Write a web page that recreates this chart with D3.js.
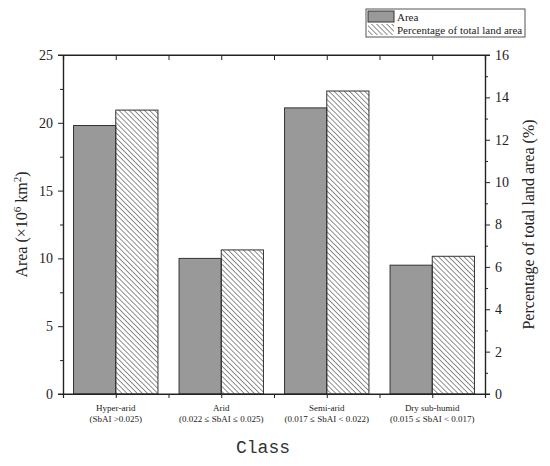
<!DOCTYPE html>
<html>
<head>
<meta charset="utf-8">
<script src="https://cdn.jsdelivr.net/npm/d3@7"></script>
<style>
  body { margin: 0; background: #fff; }
  svg text { font-family: "Liberation Serif", "Times New Roman", serif; fill: #222; }
</style>
</head>
<body>
<div id="chart"></div>
<script>
// chart data
var classNames = ["Hyper-arid", "Arid", "Semi-arid", "Dry sub-humid"];
var classRanges = ["(SbAI >0.025)", "(0.022 \u2264 SbAI \u2264 0.025)", "(0.017 \u2264 SbAI < 0.022)", "(0.015 \u2264 SbAI < 0.017)"];
var areaValues = [19.8, 10.0, 21.1, 9.5];
var percentValues = [13.4, 6.8, 14.3, 6.5];
var leftTicks = [0, 5, 10, 15, 20, 25];
var rightTicks = [0, 2, 4, 6, 8, 10, 12, 14, 16];

var svgWidth = 550;
var svgHeight = 466;

var margin = { top: 55, right: 65, bottom: 72, left: 63 };
var width = svgWidth - margin.left - margin.right;
var height = svgHeight - margin.top - margin.bottom;

var svg = d3.select("#chart").append("svg")
  .attr("width", svgWidth)
  .attr("height", svgHeight);

// hatch pattern for the percentage bars ("\\\\" direction)
var defs = svg.append("defs");
defs.append("pattern")
  .attr("id", "hatch")
  .attr("patternUnits", "userSpaceOnUse")
  .attr("width", 3.6)
  .attr("height", 3.6)
  .attr("patternTransform", "rotate(-45)")
  .append("line")
  .attr("x1", 0).attr("y1", 0)
  .attr("x2", 0).attr("y2", 3.6)
  .attr("stroke", "#333")
  .attr("stroke-width", 1.1);

var chartGroup = svg.append("g")
  .attr("transform", `translate(${margin.left}, ${margin.top})`);

// scales
var xScale = d3.scaleBand()
  .domain(classNames)
  .range([0, width])
  .paddingInner(0.2)
  .paddingOuter(0.1);

var yLeft = d3.scaleLinear().domain([0, 25]).range([height, 0]);
var yRight = d3.scaleLinear().domain([0, 16]).range([height, 0]);

var half = xScale.bandwidth() / 2;

// area bars
chartGroup.selectAll(".areaBar")
  .data(areaValues)
  .enter()
  .append("rect")
  .attr("class", "areaBar")
  .attr("x", (d, i) => xScale(classNames[i]))
  .attr("y", d => yLeft(d))
  .attr("width", half)
  .attr("height", d => height - yLeft(d))
  .attr("fill", "#999999")
  .attr("stroke", "#333")
  .attr("stroke-width", 1);

// percentage bars
chartGroup.selectAll(".pctBar")
  .data(percentValues)
  .enter()
  .append("rect")
  .attr("class", "pctBar")
  .attr("x", (d, i) => xScale(classNames[i]) + half)
  .attr("y", d => yRight(d))
  .attr("width", half)
  .attr("height", d => height - yRight(d))
  .attr("fill", "url(#hatch)")
  .attr("stroke", "#333")
  .attr("stroke-width", 1);

// left axis
var leftAxis = d3.axisLeft(yLeft).tickValues(leftTicks).tickSize(5).tickPadding(5);
var gLeft = chartGroup.append("g").call(leftAxis);
chartGroup.append("g")
  .call(d3.axisLeft(yLeft).tickValues(d3.range(2.5, 25, 5)).tickSize(3).tickFormat(""));

// right axis
var rightAxis = d3.axisRight(yRight).tickValues(rightTicks).tickSize(5).tickPadding(5);
var gRight = chartGroup.append("g")
  .attr("transform", `translate(${width}, 0)`)
  .call(rightAxis);
chartGroup.append("g")
  .attr("transform", `translate(${width}, 0)`)
  .call(d3.axisRight(yRight).tickValues(d3.range(1, 16, 2)).tickSize(3).tickFormat(""));

// bottom and top tick positions at band centres and boundaries
var step = xScale.step();
var halfTicks = d3.range(0, 9).map(k => xScale(classNames[0]) - xScale.paddingInner() * step / 2 + k * step / 2);

var xPos = d3.scaleLinear().domain([0, width]).range([0, width]);
chartGroup.append("g")
  .attr("transform", `translate(0, ${height})`)
  .call(d3.axisBottom(xPos).tickValues(halfTicks.slice(1, -1)).tickSize(4).tickFormat(""));
chartGroup.append("g")
  .call(d3.axisBottom(xPos).tickValues(halfTicks.slice(1, -1)).tickSize(5).tickFormat(""));

// extend the baseline a little beyond both axes like the reference
chartGroup.append("line")
  .attr("x1", -5).attr("x2", width + 5)
  .attr("y1", height).attr("y2", height)
  .attr("stroke", "#222");
chartGroup.append("line")
  .attr("x1", -5).attr("x2", width + 5)
  .attr("y1", 0).attr("y2", 0)
  .attr("stroke", "#222");

chartGroup.selectAll(".domain").attr("stroke", "#222").attr("stroke-width", 1.2);
chartGroup.selectAll(".tick line").attr("stroke", "#222");
gLeft.selectAll("text").style("font-size", "14px").style("font-family", "Liberation Serif");
gRight.selectAll("text").style("font-size", "14px").style("font-family", "Liberation Serif");

// category labels (two lines)
var catLabels = chartGroup.selectAll(".catLabel")
  .data(classNames)
  .enter()
  .append("text")
  .attr("class", "catLabel")
  .attr("x", d => xScale(d) + half)
  .attr("y", height + 17)
  .style("font-size", "9px")
  .style("text-anchor", "middle");
catLabels.append("tspan")
  .attr("x", d => xScale(d) + half)
  .text(d => d);
catLabels.append("tspan")
  .attr("x", d => xScale(d) + half)
  .attr("dy", "1.25em")
  .text((d, i) => classRanges[i]);

// axis titles
var leftTitle = chartGroup.append("text")
  .attr("transform", "rotate(-90)")
  .attr("x", -height / 2)
  .attr("y", -36)
  .style("font-size", "16px")
  .style("text-anchor", "middle");
leftTitle.append("tspan").text("Area (\u00d710");
leftTitle.append("tspan").attr("dy", "-6").style("font-size", "11px").text("6");
leftTitle.append("tspan").attr("dy", "6").text(" km");
leftTitle.append("tspan").attr("dy", "-6").style("font-size", "11px").text("2");
leftTitle.append("tspan").attr("dy", "6").text(")");

chartGroup.append("text")
  .attr("transform", `translate(${width + 43}, ${height / 2}) rotate(-90)`)
  .attr("dy", "0.35em")
  .style("font-size", "16px")
  .style("text-anchor", "middle")
  .text("Percentage of total land area (%)");

chartGroup.append("text")
  .attr("x", 200)
  .attr("y", height + 59)
  .style("font-size", "18px")
  .style("font-family", "Liberation Mono, DejaVu Sans Mono, monospace")
  .style("fill", "#333")
  .style("text-anchor", "middle")
  .text("Class");

// legend
var legend = svg.append("g").attr("transform", "translate(366, 9)");
legend.append("rect")
  .attr("width", 159).attr("height", 28)
  .attr("fill", "#fff").attr("stroke", "#555");
legend.append("rect")
  .attr("x", 2).attr("y", 2).attr("width", 26).attr("height", 11)
  .attr("fill", "#999999").attr("stroke", "#333");
legend.append("rect")
  .attr("x", 2).attr("y", 15).attr("width", 26).attr("height", 11)
  .attr("fill", "url(#hatch)").attr("stroke", "none");
legend.append("text").attr("x", 31).attr("y", 11.5).style("font-size", "11px").text("Area");
legend.append("text").attr("x", 31).attr("y", 24.5).style("font-size", "11px").text("Percentage of total land area");
</script>
</body>
</html>
